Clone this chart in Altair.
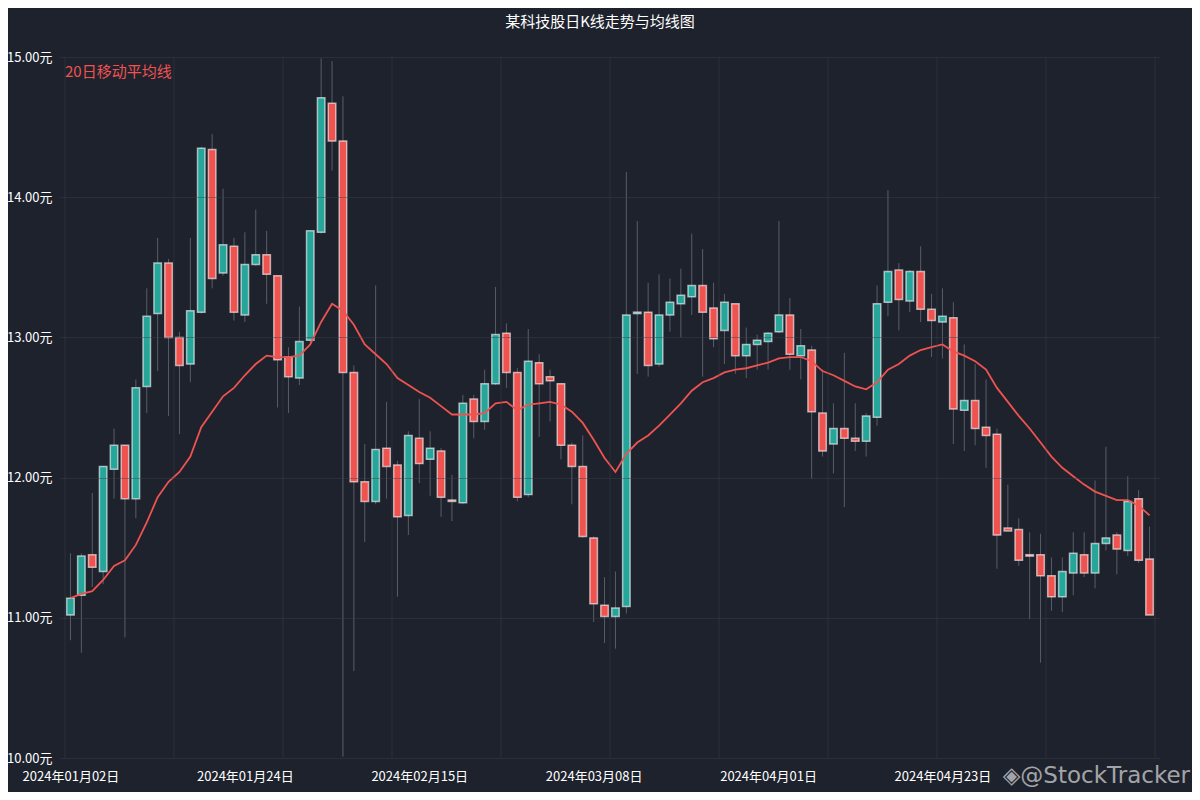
import altair as alt
import pandas as pd

# ---- data (price units) ----
open_ = [11.02, 11.16, 11.45, 11.33, 12.06, 12.23, 11.85, 12.65, 13.17, 13.53,
         13.00, 12.81, 13.18, 14.34, 13.46, 13.65, 13.16, 13.52, 13.59, 13.44,
         12.86, 12.71, 12.98, 13.75, 14.67, 14.40, 12.75, 11.97, 11.83, 12.21,
         12.09, 11.73, 12.28, 12.13, 12.19, 11.84, 11.82, 12.56, 12.40, 12.67,
         13.03, 12.75, 11.88, 12.82, 12.72, 12.67, 12.23, 12.08, 11.57, 11.09,
         11.01, 11.08, 13.17, 13.18, 12.81, 13.16, 13.24, 13.29, 13.37, 13.21,
         13.05, 13.24, 12.87, 12.95, 12.97, 13.04, 13.16, 12.87, 12.91, 12.46,
         12.24, 12.35, 12.28, 12.26, 12.43, 13.25, 13.48, 13.26, 13.47, 13.20,
         13.11, 13.14, 12.48, 12.55, 12.36, 12.31, 11.64, 11.63, 11.45, 11.45,
         11.30, 11.15, 11.32, 11.45, 11.32, 11.53, 11.59, 11.48, 11.85, 11.42]
high = [11.46, 11.46, 11.89, 12.08, 12.35, 12.23, 12.70, 13.35, 13.71, 13.56,
        13.04, 13.71, 14.36, 14.45, 14.06, 13.71, 13.75, 13.91, 13.76, 13.44,
        12.93, 13.22, 13.76, 14.99, 14.97, 14.72, 12.80, 12.24, 13.37, 12.54,
        12.12, 12.33, 12.56, 12.33, 12.21, 12.02, 12.59, 12.59, 12.77, 13.36,
        13.10, 12.78, 13.06, 12.88, 12.77, 12.67, 12.25, 12.30, 11.58, 11.29,
        11.33, 14.18, 13.83, 13.39, 13.45, 13.42, 13.49, 13.74, 13.63, 13.39,
        13.31, 13.24, 13.07, 13.02, 13.04, 13.83, 13.28, 13.06, 12.94, 12.77,
        12.53, 12.89, 12.53, 12.46, 13.37, 14.05, 13.53, 13.48, 13.65, 13.31,
        13.35, 13.25, 12.95, 12.81, 12.70, 12.35, 11.95, 11.71, 11.61, 11.60,
        11.43, 11.43, 11.61, 11.61, 11.98, 12.22, 11.61, 12.01, 11.91, 11.65]
low = [10.84, 10.75, 11.22, 11.24, 11.85, 10.86, 11.71, 12.46, 12.76, 12.44,
       12.31, 12.68, 13.17, 13.35, 13.44, 13.12, 13.11, 13.51, 13.24, 12.50,
       12.46, 12.66, 12.96, 13.74, 14.19, 10.01, 10.62, 11.54, 11.81, 11.85,
       11.15, 11.59, 11.96, 11.87, 11.72, 11.69, 11.81, 12.28, 12.34, 12.66,
       12.64, 11.83, 11.86, 12.29, 12.40, 12.13, 11.81, 11.57, 10.97, 10.82,
       10.78, 11.03, 12.74, 12.72, 12.79, 13.04, 13.00, 13.16, 12.72, 12.93,
       12.81, 12.74, 12.71, 12.77, 12.77, 13.03, 12.77, 12.70, 11.99, 12.15,
       12.03, 11.79, 12.19, 12.15, 12.37, 13.15, 13.05, 13.18, 13.11, 12.86,
       12.85, 12.24, 12.19, 12.23, 12.07, 11.35, 11.62, 11.37, 10.99, 10.68,
       11.05, 11.04, 11.16, 11.29, 11.21, 11.48, 11.31, 11.44, 11.39, 11.02]
close = [11.14, 11.44, 11.36, 12.08, 12.23, 11.85, 12.64, 13.15, 13.53, 13.00,
         12.80, 13.19, 14.35, 13.42, 13.66, 13.18, 13.52, 13.59, 13.45, 12.84,
         12.72, 12.97, 13.76, 14.71, 14.40, 12.75, 11.97, 11.83, 12.20, 12.08,
         11.72, 12.30, 12.10, 12.21, 11.86, 11.83, 12.53, 12.40, 12.67, 13.02,
         12.75, 11.86, 12.83, 12.67, 12.69, 12.23, 12.08, 11.58, 11.10, 11.01,
         11.07, 13.16, 13.18, 12.80, 13.16, 13.25, 13.30, 13.37, 13.18, 12.99,
         13.25, 12.87, 12.95, 12.98, 13.03, 13.16, 12.88, 12.94, 12.47, 12.19,
         12.35, 12.28, 12.26, 12.44, 13.24, 13.47, 13.27, 13.47, 13.20, 13.12,
         13.15, 12.49, 12.55, 12.35, 12.30, 11.59, 11.62, 11.41, 11.44, 11.30,
         11.15, 11.33, 11.46, 11.32, 11.53, 11.57, 11.49, 11.83, 11.41, 11.02]
ma20 = [11.14, 11.17, 11.19, 11.27, 11.37, 11.41, 11.52, 11.68, 11.86, 11.97,
        12.04, 12.15, 12.36, 12.47, 12.58, 12.64, 12.73, 12.81, 12.87, 12.86,
        12.86, 12.87, 12.95, 13.11, 13.24, 13.19, 13.09, 12.95, 12.88, 12.81,
        12.71, 12.66, 12.61, 12.57, 12.51, 12.45, 12.45, 12.45, 12.46, 12.53,
        12.54, 12.48, 12.52, 12.53, 12.54, 12.52, 12.47, 12.39, 12.27, 12.14,
        12.04, 12.17, 12.25, 12.30, 12.37, 12.45, 12.53, 12.62, 12.68, 12.71,
        12.75, 12.77, 12.78, 12.80, 12.82, 12.85, 12.86, 12.86, 12.83, 12.76,
        12.73, 12.69, 12.65, 12.63, 12.68, 12.77, 12.81, 12.87, 12.91, 12.93,
        12.95, 12.90, 12.87, 12.83, 12.77, 12.64, 12.54, 12.44, 12.35, 12.25,
        12.15, 12.07, 12.01, 11.95, 11.90, 11.87, 11.84, 11.84, 11.80, 11.73]

dates = [d.strftime("%Y年%m月%d日") for d in pd.bdate_range("2024-01-02", periods=len(close))]
price_ticks = [10, 11, 12, 13, 14, 15]
label_idx = [0, 16, 32, 48, 64, 80]
grid_idx = [-0.5, 9.5, 19.5, 29.5, 39.5, 49.5, 59.5, 69.5, 79.5, 89.5, 99.5]

title_text = "某科技股日K线走势与均线图"
legend_text = "20日移动平均线"
watermark_text = "◈@StockTracker"

GREEN = "#26a69a"
RED = "#ef5350"
BG = "#1e222d"
FONT = "Noto Sans CJK SC"

df = pd.DataFrame({
    "idx": list(range(len(close))),
    "date": dates,
    "open": open_, "high": high, "low": low, "close": close, "ma": ma20,
})

label_js = "[" + ",".join("'%s'" % dates[i] for i in label_idx) + "]"
idx_js = "[" + ",".join(str(i) for i in label_idx) + "]"

xscale = alt.Scale(domain=[-0.5, 99.5], nice=False, zero=False)
yscale = alt.Scale(domain=[10, 15], nice=False, zero=False)

x_axis = alt.Axis(values=label_idx, grid=False, domain=False, ticks=False, tickSize=0,
                  labelExpr=label_js + "[indexof(" + idx_js + ", datum.value)]",
                  labelColor="#ffffff", labelFont=FONT, labelFontSize=13,
                  labelPadding=12, title=None, labelOverlap=False)
y_axis = alt.Axis(values=price_ticks, grid=True, gridColor="#3c404c", gridOpacity=0.45,
                  domain=False, ticks=False, tickSize=0,
                  labelExpr="format(datum.value, '.2f') + '元'",
                  labelColor="#ffffff", labelFont=FONT, labelFontSize=13,
                  labelPadding=8, title=None, zindex=1)

base = alt.Chart(df)

wicks = base.mark_rule(color="#5a5d66", strokeWidth=1).encode(
    x=alt.X("idx:Q", scale=xscale, axis=x_axis),
    y=alt.Y("low:Q", scale=yscale, axis=y_axis),
    y2="high:Q",
)

bodies = base.mark_bar(size=7.5, stroke="#ffffff", strokeOpacity=0.6, strokeWidth=1.5).encode(
    x=alt.X("idx:Q", scale=xscale),
    y=alt.Y("open:Q", scale=yscale),
    y2="close:Q",
    color=alt.condition("datum.close >= datum.open", alt.value(GREEN), alt.value(RED)),
)

ma_line = base.mark_line(color=RED, strokeWidth=1.8).encode(
    x=alt.X("idx:Q", scale=xscale),
    y=alt.Y("ma:Q", scale=yscale),
)

vgrid = alt.Chart(pd.DataFrame({"g": grid_idx})).mark_rule(
    color="#3c404c", opacity=0.45, strokeWidth=1
).encode(x=alt.X("g:Q", scale=xscale))

legend = alt.Chart(pd.DataFrame({"t": [legend_text]})).mark_text(
    color=RED, fontSize=15, font=FONT, align="left", baseline="middle"
).encode(text="t:N", x=alt.value(5), y=alt.value(15))

watermark = alt.Chart(pd.DataFrame({"t": [watermark_text]})).mark_text(
    color="#d0d0d0", opacity=0.75, fontSize=23, font="DejaVu Sans", align="right",
    baseline="alphabetic"
).encode(text="t:N", x=alt.value(1130), y=alt.value(726))

chart = alt.layer(wicks, bodies, ma_line, vgrid, legend, watermark).properties(
    width=1100,
    height=701,
    padding={"left": 52, "top": 49, "right": 32, "bottom": 34},
    autosize=alt.AutoSizeParams(type="none"),
    background=BG,
    title=alt.TitleParams(title_text, color="#ffffff", fontSize=15, font=FONT,
                          fontWeight="normal", anchor="middle", offset=21, dx=-10),
).configure_view(stroke=None)

chart.save("out.html", embed_options={"renderer": "svg", "actions": False})
